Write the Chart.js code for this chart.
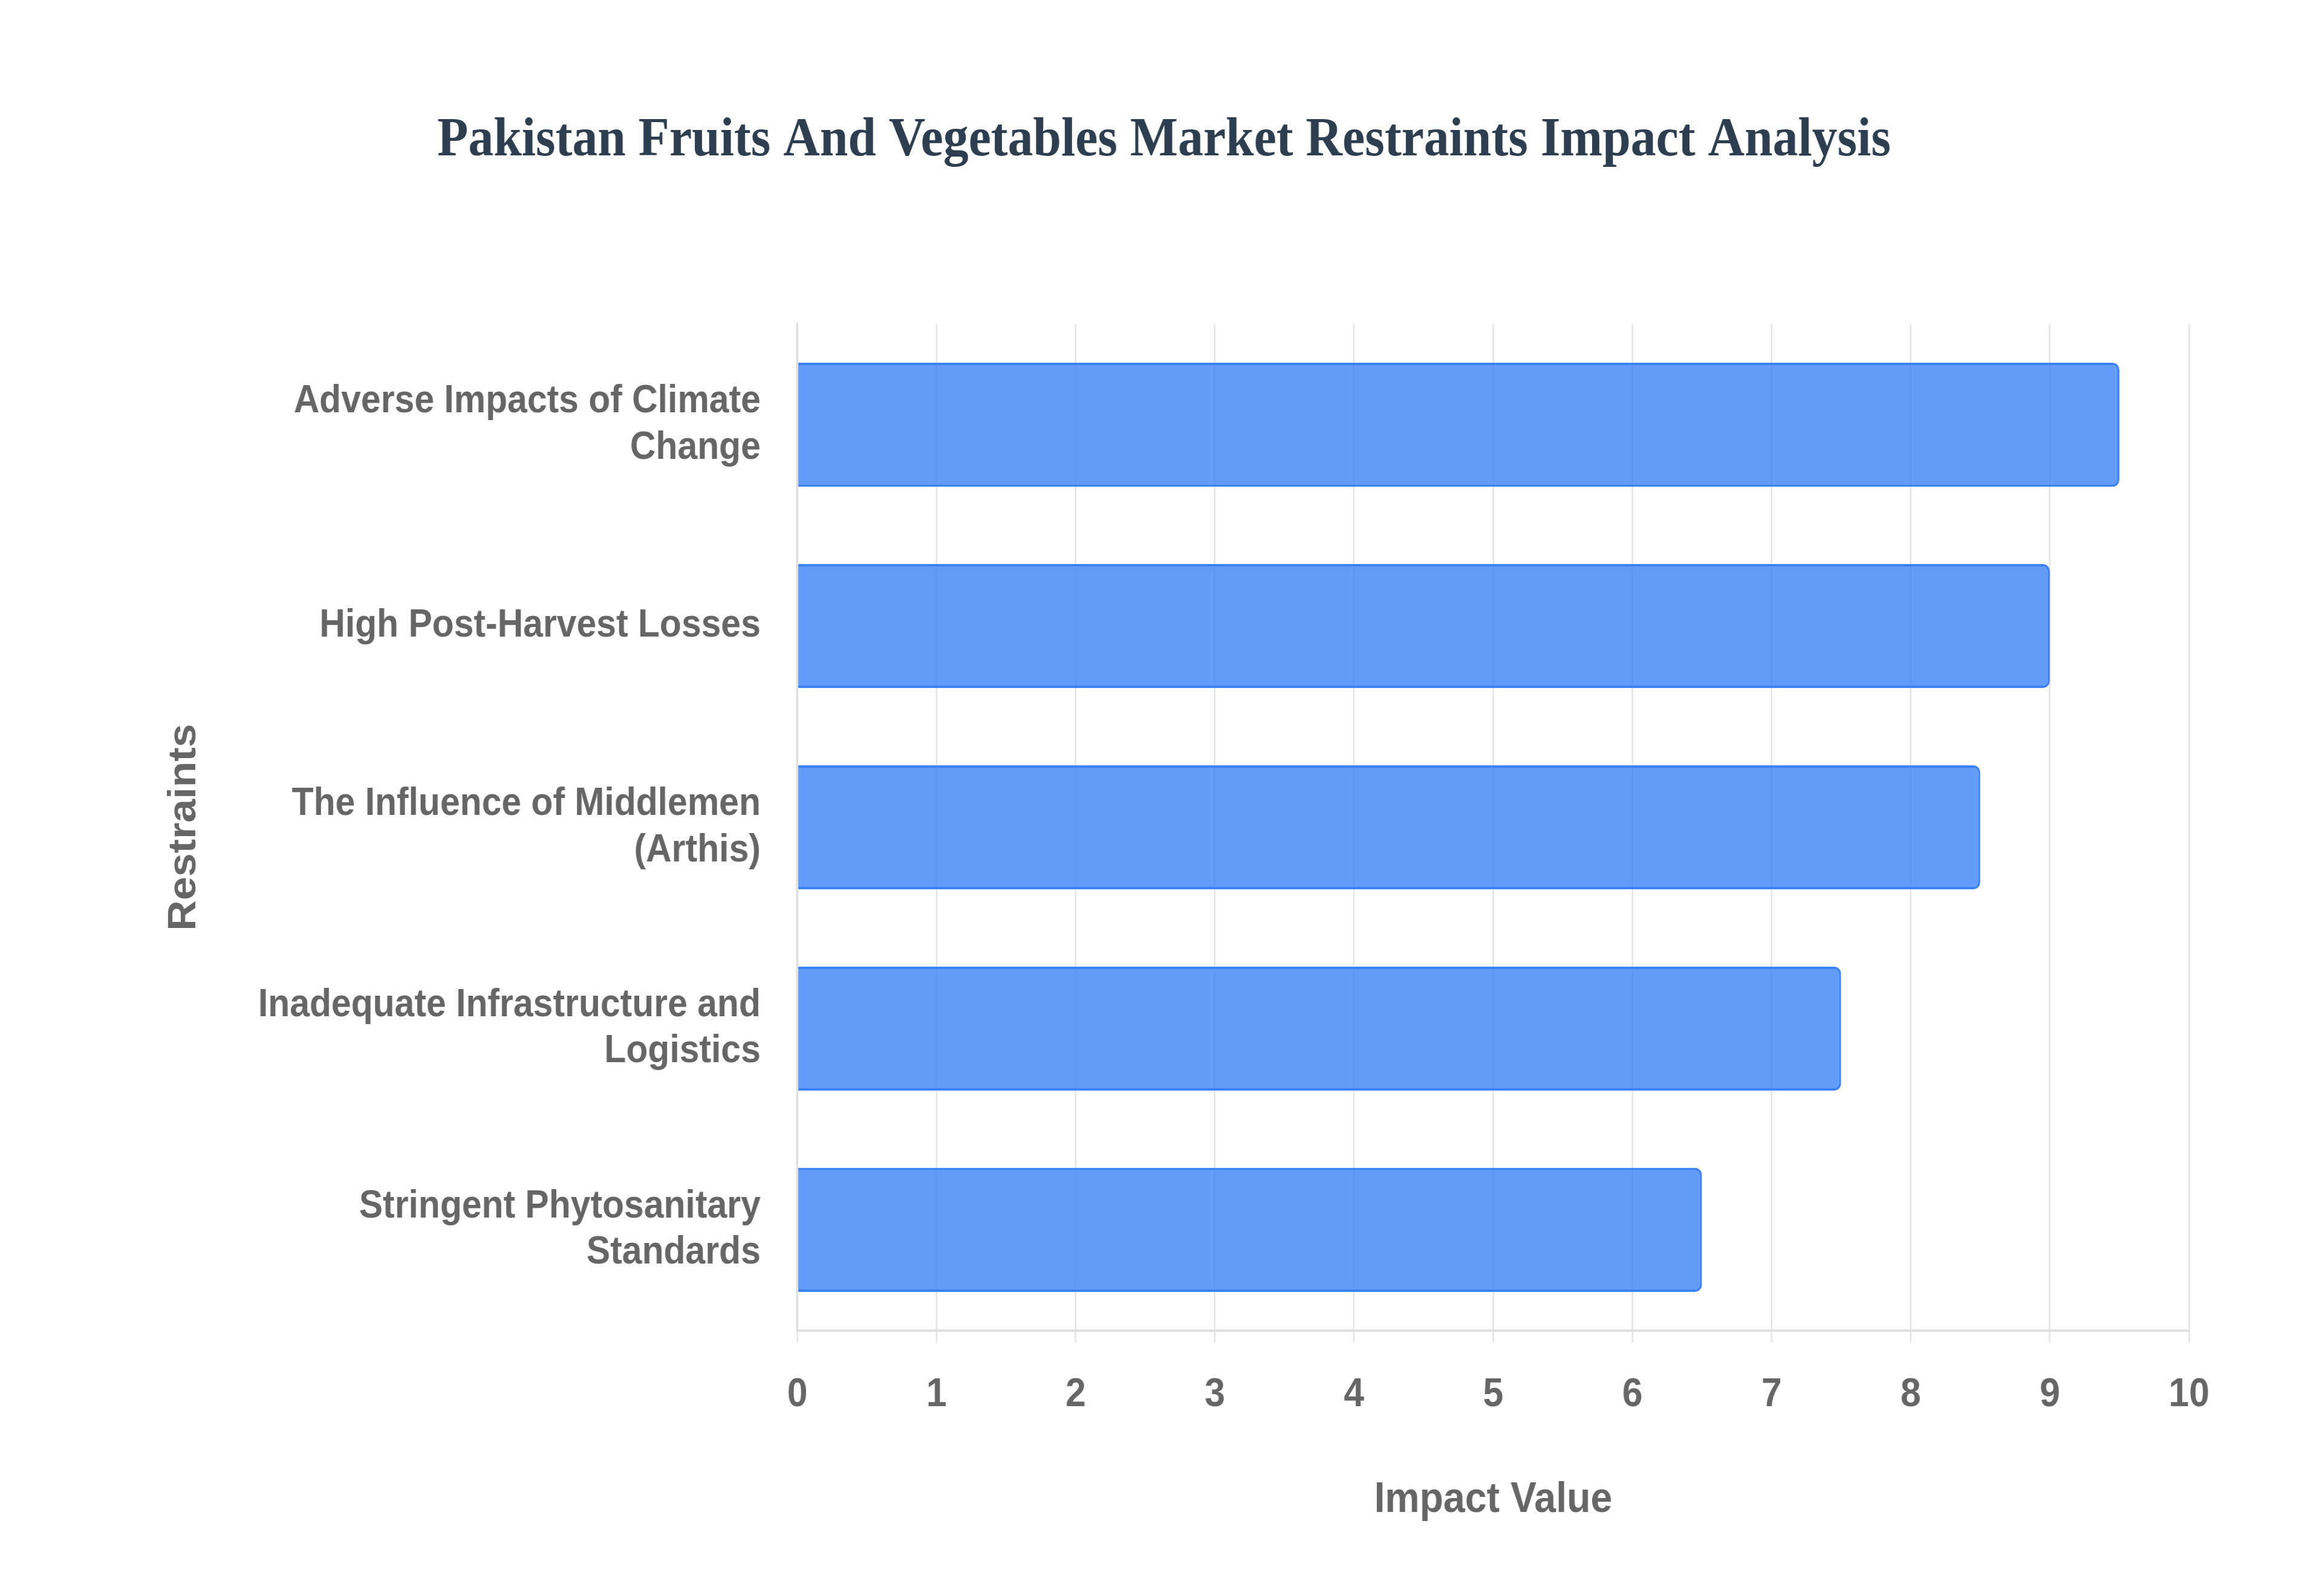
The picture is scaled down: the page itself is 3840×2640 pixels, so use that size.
<!DOCTYPE html>
<html>
<head>
<meta charset="utf-8">
<title>Pakistan Fruits And Vegetables Market Restraints Impact Analysis</title>
<script src="https://cdn.jsdelivr.net/npm/chart.js@4.4.1/dist/chart.umd.min.js"></script>
<style>
  html, body { margin: 0; padding: 0; background: #ffffff; overflow: hidden; }
  /* the picture is a little narrower than its fonts, so the bitmap is squeezed sideways */
  #chart { display: block; width: 3840px !important; height: 2640px !important; }
</style>
</head>
<body>
<canvas id="chart" width="4174" height="2640"></canvas>
<script>
const restraints = [
  ['Adverse Impacts of Climate', 'Change'],
  'High Post-Harvest Losses',
  ['The Influence of Middlemen', '(Arthis)'],
  ['Inadequate Infrastructure and', 'Logistics'],
  ['Stringent Phytosanitary', 'Standards']
];
const impactValues = [9.5, 9, 8.5, 7.5, 6.5];
const impactRange = [0, 10];
const impactStep = 1;

const sans = "'Liberation Sans', Arial, sans-serif";
const gray = '#666666';

const ctx = document.getElementById('chart');
new Chart(ctx, {
  type: 'bar',
  data: {
    labels: restraints,
    datasets: [{
      label: 'Impact Value',
      data: impactValues,
      backgroundColor: 'rgba(59, 130, 246, 0.8)',
      borderColor: 'rgb(59, 130, 246)',
      borderWidth: 4,
      borderRadius: 12,
      categoryPercentage: 0.8,
      barPercentage: 0.77
    }]
  },
  options: {
    indexAxis: 'y',
    responsive: false,
    devicePixelRatio: 1,
    animation: false,
    layout: {
      padding: { left: 250, right: 239, top: 0, bottom: 116 }
    },
    plugins: {
      legend: { display: false },
      tooltip: { enabled: false },
      title: {
        display: true,
        text: 'Pakistan Fruits And Vegetables Market Restraints Impact Analysis',
        color: '#2c3e50',
        font: { family: "'Times New Roman', 'Liberation Serif', serif", size: 91, weight: 'bold' },
        padding: { top: 179, bottom: 248 }
      }
    },
    scales: {
      x: {
        min: impactRange[0],
        max: impactRange[1],
        ticks: {
          stepSize: impactStep,
          color: gray,
          padding: 47,
          font: { family: sans, size: 66, weight: 'bold' }
        },
        grid: { color: '#e6e6e6', lineWidth: 3, tickLength: 20 },
        border: { color: '#e0e0e0', width: 4 },
        title: {
          display: true,
          text: 'Impact Value',
          color: gray,
          font: { family: sans, size: 70, weight: 'bold' },
          padding: { top: 46, bottom: 0 }
        }
      },
      y: {
        ticks: {
          color: gray,
          padding: 66,
          font: { family: sans, size: 64, weight: 'bold' }
        },
        grid: { display: false, drawTicks: false },
        border: { color: '#e0e0e0', width: 4 },
        title: {
          display: true,
          text: 'Restraints',
          color: gray,
          font: { family: sans, size: 70, weight: 'bold' },
          padding: { top: 40, bottom: 24 }
        }
      }
    }
  }
});
</script>
</body>
</html>
